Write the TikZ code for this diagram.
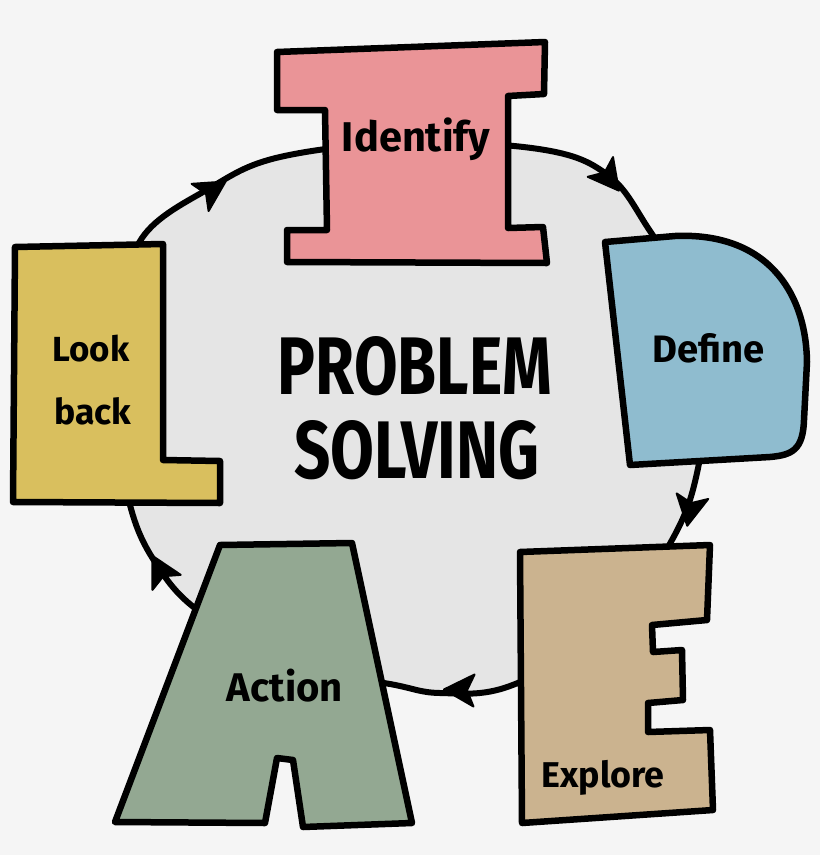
\documentclass[tikz,border=0pt]{standalone}
\usepackage{fontspec}
\setmainfont{Fira Sans}
\usepackage{graphicx}
\definecolor{bgc}{HTML}{F5F5F5}
\definecolor{circc}{HTML}{E5E5E5}
\definecolor{pinkc}{HTML}{EA9497}
\definecolor{bluec}{HTML}{8FBCCF}
\definecolor{yellowc}{HTML}{D9BF5E}
\definecolor{greenc}{HTML}{93A892}
\definecolor{tanc}{HTML}{CBB38F}
\begin{document}
\begin{tikzpicture}[x=1pt,y=1pt,
  letter/.style={draw=black, line width=6.5pt, line join=round, line cap=round},
  ring/.style={draw=black, line width=6pt, fill=circc},
  lbl/.style={inner sep=0pt, text=black, font=\bfseries},
  ahead/.style={fill=black, draw=black, line width=2pt, line join=round}]
\useasboundingbox (0,0) rectangle (820,-855);
\fill[bgc] (0,0) rectangle (820,-855);
% ring
\path[ring] plot[smooth cycle, tension=0.6] coordinates {
 (410,-142) (545,-150) (609,-176) (648,-228) (690,-300) (705,-390) (697,-473)
 (672,-540) (610,-630) (510,-686) (440,-693) (390,-684) (300,-668) (200,-612)
 (155,-562) (130,-505) (118,-420) (121,-320) (142,-238) (210,-188) (280,-157)};
% arrowheads
\foreach \px/\py/\ang in {212/-190/32, 609/-178/-52, 690/-510/-100, 460/-690/178, 160/-570/118}{
  \path[ahead, shift={(\px,\py)}, rotate=\ang] (16,0) -- (-14,16) -- (-7,0) -- (-14,-16) -- cycle;
}
% Identify (I)
\path[letter, fill=pinkc] (277,-52) -- (545,-42) -- (544,-94) -- (508,-96) -- (508,-228)
  -- (543,-227) -- (547,-263) -- (287,-262) -- (287,-230) -- (327,-230) -- (325,-110)
  -- (277,-110) -- cycle;
% Define (D)
\path[letter, fill=bluec] (605,-242) -- (675,-236) .. controls (765,-232) and (806,-290) .. (807,-362)
  -- (804,-420) .. controls (803,-450) and (792,-455) .. (770,-457) -- (630,-465) -- cycle;
% Look back (L)
\path[letter, fill=yellowc] (15,-247) -- (163,-244) -- (163,-460) -- (220,-461) -- (220,-503)
  -- (13,-502) -- cycle;
% Action (A)
\path[letter, fill=greenc] (220,-545) -- (352,-543) -- (412,-823) -- (303,-827) -- (293,-760)
  -- (277,-758) -- (265,-823) -- (115,-822) -- cycle;
% Explore (E)
\path[letter, fill=tanc] (520,-552) -- (710,-545) -- (707,-620) -- (652,-625) -- (653,-652)
  -- (682,-650) -- (683,-700) -- (648,-703) -- (648,-732) -- (710,-730) -- (713,-810)
  -- (522,-823) -- cycle;
% labels
\node[lbl] (tI) at (416,-139) {\resizebox{148pt}{!}{Identify}};
\node[lbl] (tD) at (709,-348) {\resizebox{112pt}{!}{Define}};
\node[lbl] (tL1) at (91,-349) {\resizebox{77pt}{!}{Look}};
\node[lbl] (tL2) at (93,-411) {\resizebox{77pt}{!}{back}};
\node[lbl] (tA) at (285,-686) {\resizebox{116pt}{!}{Action}};
\node[lbl] (tE) at (603,-778) {\resizebox{123pt}{!}{Explore}};
\node[lbl] (tP) at (415,-366) {\resizebox{274pt}{58pt}{PROBLEM}};
\node[lbl] (tS) at (417,-450) {\resizebox{245pt}{58pt}{SOLVING}};
\end{tikzpicture}
\end{document}
